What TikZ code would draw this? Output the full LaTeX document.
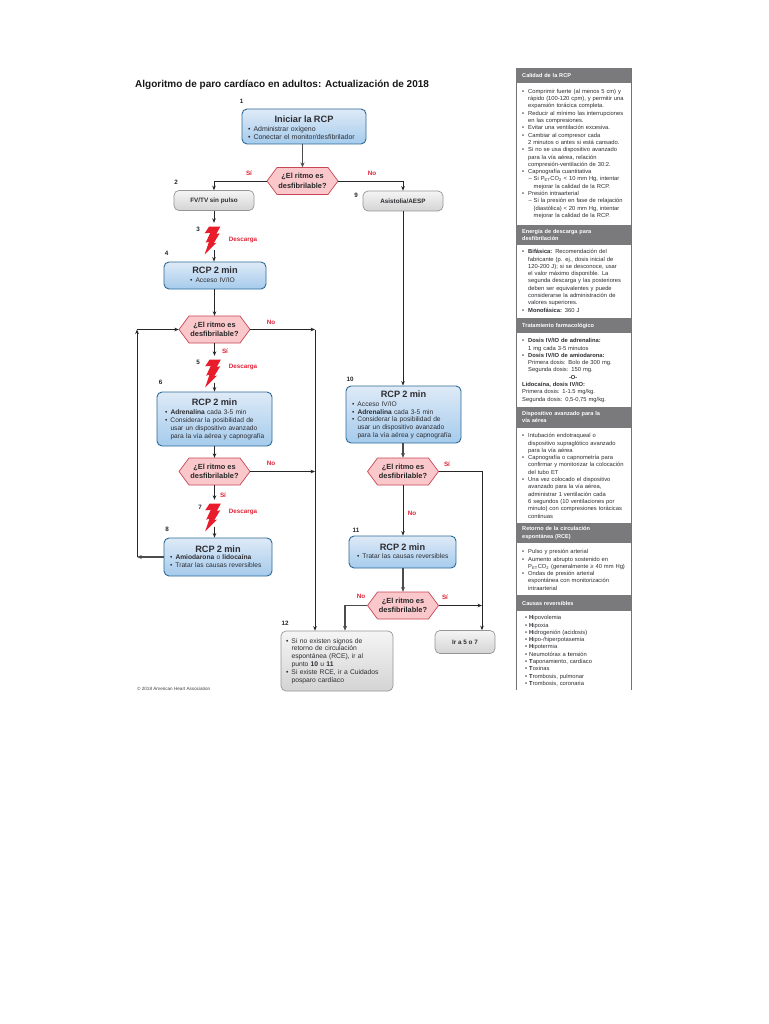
\documentclass[tikz,border=0pt]{standalone}
\usepackage{fontspec}
\setmainfont{Liberation Sans}
\usetikzlibrary{arrows.meta}
\definecolor{blueB}{RGB}{45,105,150}
\definecolor{blueT}{RGB}{222,234,247}
\definecolor{blueU}{RGB}{165,203,236}
\definecolor{grayB}{RGB}{150,150,150}
\definecolor{hexB}{RGB}{200,70,85}
\definecolor{hexF}{RGB}{250,200,203}
\definecolor{boltred}{RGB}{232,28,42}
\definecolor{labred}{RGB}{225,35,55}
\definecolor{headgray}{RGB}{122,122,124}
\definecolor{bodytxt}{RGB}{45,45,50}
\newcommand\sst{\vrule width 0pt height 5.1pt depth 2.2pt\relax}
\newcommand\bst{\vrule width 0pt height 5.4pt depth 2.4pt\relax}
\newcommand\myli[1]{\hbox{\sst\makebox[6pt][l]{\textbullet}#1}\par}
\newcommand\mylc[1]{\hbox{\sst\hspace{6pt}#1}\par}
\newcommand\mylk[1]{\hbox{\sst\hspace{6.5pt}\makebox[5pt][l]{–}#1}\par}
\newcommand\mylm[1]{\hbox{\sst\hspace{11.5pt}#1}\par}
\newcommand\mylf[1]{\hbox{\sst #1}\par}
\newcommand\mylq[1]{\hbox{\sst\makebox[4pt][l]{\textbullet}#1}\par}
\newcommand\mybi[1]{\hbox{\bst\makebox[5.5pt][l]{\textbullet}#1}\par}
\newcommand\mybc[1]{\hbox{\bst\hspace{5.5pt}#1}\par}
\newcommand\mybo[2]{\hbox{\hspace{#1}\bst\makebox[5.5pt][l]{\textbullet}#2}\par}
\newcommand\mytit[1]{\hbox to \hsize{\hfil\fontsize{9.2}{11}\bfseries\selectfont\vrule width 0pt height 8pt depth 2.6pt\relax #1\hfil}\par}
\newcommand\mytitc[1]{\hbox to \hsize{\hfil\fontsize{9.2}{11}\bfseries\selectfont\vrule width 0pt height 8pt depth 1pt\relax #1\hfil}\par}
\newcommand\hexd[2]{%
 \draw[hexshape] (#1) ++(-35.5,0) -- ++(10,-13.5) -- ++(51,0) -- ++(10,13.5) -- ++(-10,13.5) -- ++(-51,0) -- cycle;}
\newcommand\boltn[2]{%
 \node[boltbox] (#1) at (#2) {};
 \fill[boltred,shift={(#2)}] (-5,-9.8) -- (6.3,-9.8) -- (2.3,-2.5) -- (5.7,-3.2) -- (-0.3,6.8) -- (2.3,6.2) -- (-9.3,17.8) -- (-5,5.2) -- (-8.3,6.2) -- (-3.7,-3.8) -- (-9.3,-3.2) -- cycle;}
\tikzset{
 bluebox/.style={draw=blueB,line width=0.9pt,rounded corners=5pt,top color=blueT,bottom color=blueU,inner xsep=6pt,inner ysep=0pt,anchor=center,font=\fontsize{6.65}{7.8}\selectfont,text=bodytxt,align=left},
 graybox/.style={draw=grayB,line width=0.7pt,rounded corners=5pt,top color=white!96!black,bottom color=black!17,inner sep=0pt,anchor=center,font=\fontsize{6.75}{7.8}\selectfont,text=bodytxt,align=left},
 hexshape/.style={draw=hexB,fill=hexF,line width=0.7pt,line join=miter},
 hextext/.style={minimum width=71pt,minimum height=27pt,inner sep=0pt,align=center,font=\fontsize{7.4}{9.3}\bfseries\selectfont,text=black!85},
 boltbox/.style={minimum width=1pt,minimum height=27pt,inner sep=0pt},
 numl/.style={inner sep=0pt,font=\fontsize{6.3}{7}\bfseries\selectfont,text=black!85},
 redl/.style={inner sep=0pt,font=\fontsize{6.3}{7}\bfseries\selectfont,text=labred},
 conn/.style={draw=black!85,line width=0.8pt,-{Stealth[length=4.5pt,width=3.6pt]}},
 connt/.style={draw=black!70,line width=1.3pt,-{Stealth[length=4.8pt,width=4pt]}},
 head/.style={fill=headgray,anchor=north west,text width=103pt,inner xsep=6pt,inner ysep=0pt,text=white,align=left,font=\fontsize{5.6}{7.4}\bfseries\selectfont},
 side/.style={anchor=north west,inner sep=0pt,text width=106pt,align=left,text=bodytxt,font=\fontsize{5.8}{7.3}\selectfont},
 sideedge/.style={draw=black!55,line width=0.8pt}
}
\begin{document}
\begin{tikzpicture}[x=1pt,y=-1pt]
\useasboundingbox[fill=white] (0,0) rectangle (768,1024);
% title
\node[anchor=west,inner sep=0pt,font=\fontsize{10}{12}\bfseries\selectfont,text=black!90] (title) at (135,85) {Algoritmo de paro cardíaco en adultos: Actualización de 2018};
\node[anchor=west,inner sep=0pt,font=\fontsize{4.6}{6}\selectfont,text=black!75] (copy) at (137,689) {© 2018 American Heart Association};
% boxes
\node[bluebox,text width=112pt,minimum height=35pt,font=\fontsize{6.95}{7.8}\selectfont] (b1) at (304,126.5) {\vskip 2pt\mytit{Iniciar la RCP}\mybi{Administrar oxígeno}\mybi{Conectar el monitor/desfibrilador}};
\hexd{302.5,181}{}
\node[hextext] (d1) at (302.5,181) {¿El ritmo es\\desfibrilable?};
\node[graybox,minimum width=80pt,minimum height=20pt,font=\fontsize{6.3}{7.8}\bfseries\selectfont,align=center] (b2) at (214,200.5) {FV/TV sin pulso};
\node[graybox,minimum width=80pt,minimum height=20pt,font=\fontsize{6.3}{7.8}\bfseries\selectfont,align=center] (b9) at (403,201) {Asistolia/AESP};
\boltn{bolt3}{214,236.5}
\node[bluebox,text width=90pt,minimum height=27pt] (b4) at (215,275.5) {\mytit{RCP 2 min}\mybo{20pt}{Acceso IV/IO}};
\hexd{214.5,329.5}{}
\node[hextext] (d2) at (214.5,329.5) {¿El ritmo es\\desfibrilable?};
\boltn{bolt5}{214.5,369.5}
\node[bluebox,text width=99pt,minimum height=54pt,inner xsep=8pt] (b6) at (214.5,419) {\mytit{RCP 2 min}\mybi{\textbf{Adrenalina} cada 3-5 min}\mybi{Considerar la posibilidad de}\mybc{usar un dispositivo avanzado}\mybc{para la vía aérea y capnografía}};
\hexd{214.5,471.5}{}
\node[hextext] (d3) at (214.5,471.5) {¿El ritmo es\\desfibrilable?};
\boltn{bolt7}{214.5,513.5}
\node[bluebox,text width=96pt,minimum height=38pt] (b8) at (218,557) {\mytitc{RCP 2 min}\mybi{\textbf{Amiodarona} o \textbf{lidocaína}}\mybi{Tratar las causas reversibles}\vskip 3pt};
\node[bluebox,text width=103pt,minimum height=57pt] (b10) at (403.5,414.5) {\mytit{RCP 2 min}\mybi{Acceso IV/IO}\mybi{\textbf{Adrenalina} cada 3-5 min}\mybi{Considerar la posibilidad de}\mybc{usar un dispositivo avanzado}\mybc{para la vía aérea y capnografía}};
\hexd{403,471.5}{}
\node[hextext] (d4) at (403,471.5) {¿El ritmo es\\desfibrilable?};
\node[bluebox,text width=95pt,minimum height=32pt] (b11) at (402.5,552) {\mytitc{RCP 2 min}\mybo{2pt}{Tratar las causas reversibles}\vskip 3pt};
\hexd{403,605.5}{}
\node[hextext] (d5) at (403,605.5) {¿El ritmo es\\desfibrilable?};
\node[graybox,text width=102pt,minimum height=60pt,inner xsep=5pt] (b12) at (337,661) {\mybi{Si no existen signos de}\mybc{retorno de circulación}\mybc{espontánea (RCE), ir al}\mybc{punto \textbf{10} u \textbf{11}}\mybi{Si existe RCE, ir a Cuidados}\mybc{posparo cardíaco}};
\node[graybox,minimum width=60pt,minimum height=23pt,font=\fontsize{6.3}{7.8}\bfseries\selectfont,align=center] (ir) at (465,642) {Ir a 5 o 7};
% numbers
\node[numl] (n1) at (241.5,101) {1};
\node[numl] (n2) at (176,182) {2};
\node[numl] (n3) at (198,229.5) {3};
\node[numl] (n4) at (166.5,253) {4};
\node[numl] (n5) at (198,362) {5};
\node[numl] (n6) at (160.7,382) {6};
\node[numl] (n7) at (200,507) {7};
\node[numl] (n8) at (167,529) {8};
\node[numl] (n9) at (356,195) {9};
\node[numl] (n10) at (350,379) {10};
\node[numl] (n11) at (356,530) {11};
\node[numl] (n12) at (285,623) {12};
% red labels
\node[redl] (s1) at (249,173) {Sí};
\node[redl] (no1) at (372,173) {No};
\node[redl] (des3) at (243,240) {Descarga};
\node[redl] (no2) at (271,322) {No};
\node[redl] (s2) at (225,351) {Sí};
\node[redl] (des5) at (243,367) {Descarga};
\node[redl] (no3) at (271,463.7) {No};
\node[redl] (s3) at (223,495) {Sí};
\node[redl] (des7) at (243,512) {Descarga};
\node[redl] (s4) at (447,464) {Sí};
\node[redl] (no4) at (412,513) {No};
\node[redl] (no5) at (361,596) {No};
\node[redl] (s5) at (445,597) {Sí};
% junctions
\coordinate (jr) at (315,329.5);
\coordinate (jl) at (137,329.5);
\coordinate (jb) at (137,557);
\coordinate (jf) at (482,471.5);
\coordinate (jn) at (345,605.5);
% connectors
\draw[connt] (b1.south -| d1.north) -- (d1.north);
\draw[conn] (d1.west) -| (b2.north);
\draw[conn] (d1.east) -| (b9.north);
\draw[conn] (b2.south) -- (bolt3.north);
\draw[conn] (bolt3.south) -- (bolt3.south |- b4.north);
\draw[conn] (b4.south -| d2.north) -- (d2.north);
\draw[conn] (d2.south) -- (bolt5.north);
\draw[conn] (bolt5.south) -- (bolt5.south |- b6.north);
\draw[conn] (b6.south) -- (d3.north);
\draw[conn] (d3.south) -- (bolt7.north);
\draw[conn] (bolt7.south) -- (bolt7.south |- b8.north);
\draw[connt] (b8.west) -- (jb);
\draw[conn] (jb) -- (jl);
\draw[conn] (jl) -- (d2.west);
\draw[conn] (d2.east) -- (jr);
\draw[conn] (d3.east) -- (jr |- d3.east);
\draw[conn] (jr) -- (jr |- b12.north);
\draw[conn] (b9.south) -- (b9.south |- b10.north);
\draw[connt] (b10.south -| d4.north) -- (d4.north);
\draw[conn] (d4.south) -- (d4.south |- b11.north);
\draw[connt] (b11.south -| d5.north) -- (d5.north);
\draw[conn] (d4.east) -- (jf) -- (jf |- ir.north);
\draw[conn] (d5.east) -- (jf |- d5.east);
\draw[connt] (d5.west) -- (jn) -- (jn |- b12.north);
% sidebar
\coordinate (sbtl) at (516,68);
\coordinate (sbbl) at (516,690);
\coordinate (sbtr) at (631,68);
\coordinate (sbbr) at (631,690);
\draw[sideedge] (sbtl) -- (sbbl);
\draw[sideedge] (sbtr) -- (sbbr);
\node[head,minimum height=15pt] (h1) at (516,68) {Calidad de la RCP};
\node[side] (t1) at (522,88.1) {\myli{Comprimir fuerte (al menos 5 cm) y}\mylc{rápido (100-120 cpm), y permitir una}\mylc{expansión torácica completa.}\myli{Reducir al mínimo las interrupciones}\mylc{en las compresiones.}\myli{Evitar una ventilación excesiva.}\myli{Cambiar al compresor cada}\mylc{2 minutos o antes si está cansado.}\myli{Si no se usa dispositivo avanzado}\mylc{para la vía aérea, relación}\mylc{compresión-ventilación de 30:2.}\myli{Capnografía cuantitativa}\mylk{Si P\textsubscript{ET}CO\textsubscript{2} < 10 mm Hg, intentar}\mylm{mejorar la calidad de la RCP.}\myli{Presión intraarterial}\mylk{Si la presión en fase de relajación}\mylm{(diastólica) < 20 mm Hg, intentar}\mylm{mejorar la calidad de la RCP.}};
\node[head,minimum height=20pt] (h2) at (516,225) {Energía de descarga para\\desfibrilación};
\node[side] (t2) at (522,248.4) {\myli{\textbf{Bifásica:} Recomendación del}\mylc{fabricante (p. ej., dosis inicial de}\mylc{120-200 J); si se desconoce, usar}\mylc{el valor máximo disponible. La}\mylc{segunda descarga y las posteriores}\mylc{deben ser equivalentes y puede}\mylc{considerarse la administración de}\mylc{valores superiores.}\myli{\textbf{Monofásica:} 360 J}};
\node[head,minimum height=15pt] (h3) at (516,318) {Tratamiento farmacológico};
\node[side] (t3) at (522,337.4) {\myli{\textbf{Dosis IV/IO de adrenalina:}}\mylc{1 mg cada 3-5 minutos}\myli{\textbf{Dosis IV/IO de amiodarona:}}\mylc{Primera dosis: Bolo de 300 mg.}\mylc{Segunda dosis: 150 mg.}\hbox to 102pt{\sst\hfil\textbf{-O-}\hfil}\par\mylf{\textbf{Lidocaína, dosis IV/IO:}}\mylf{Primera dosis: 1-1.5 mg/kg.}\mylf{Segunda dosis: 0,5-0,75 mg/kg.}};
\node[head,minimum height=21pt] (h4) at (516,406.5) {Dispositivo avanzado para la\\vía aérea};
\node[side] (t4) at (522,432.4) {\myli{Intubación endotraqueal o}\mylc{dispositivo supraglótico avanzado}\mylc{para la vía aérea}\myli{Capnografía o capnometría para}\mylc{confirmar y monitorizar la colocación}\mylc{del tubo ET}\myli{Una vez colocado el dispositivo}\mylc{avanzado para la vía aérea,}\mylc{administrar 1 ventilación cada}\mylc{6 segundos (10 ventilaciones por}\mylc{minuto) con compresiones torácicas}\mylc{continuas}};
\node[head,minimum height=20pt] (h5) at (516,523) {Retorno de la circulación\\espontánea (RCE)};
\node[side] (t5) at (522,548.4) {\myli{Pulso y presión arterial}\myli{Aumento abrupto sostenido en}\mylc{P\textsubscript{ET}CO\textsubscript{2} (generalmente ≥ 40 mm Hg)}\myli{Ondas de presión arterial}\mylc{espontánea con monitorización}\mylc{intraarterial}};
\node[head,minimum height=16pt] (h6) at (516,595) {Causas reversibles};
\node[side] (t6) at (525,614.4) {\mylq{\textbf{H}ipovolemia}\mylq{\textbf{H}ipoxia}\mylq{\textbf{H}idrogenión (acidosis)}\mylq{\textbf{H}ipo-/hiperpotasemia}\mylq{\textbf{H}ipotermia}\mylq{Neumotórax a \textbf{t}ensión}\mylq{\textbf{T}aponamiento, cardíaco}\mylq{\textbf{T}oxinas}\mylq{\textbf{T}rombosis, pulmonar}\mylq{\textbf{T}rombosis, coronaria}};
\end{tikzpicture}
\end{document}
